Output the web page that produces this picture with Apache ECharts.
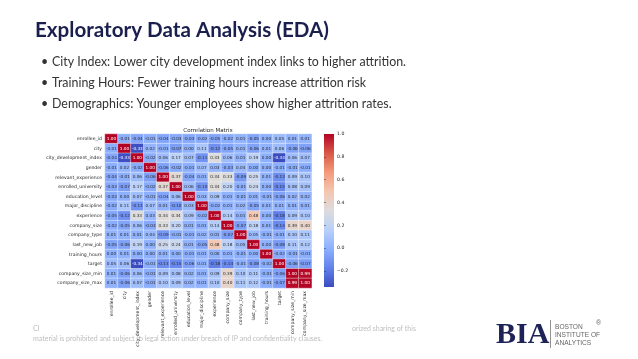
<!DOCTYPE html>
<html>
<head>
<meta charset="utf-8">
<title>Exploratory Data Analysis (EDA)</title>
<style>
  html, body { margin: 0; padding: 0; background: #ffffff; }
  #main { width: 638px; height: 359px; }
</style>
<script src="https://cdn.jsdelivr.net/npm/echarts@6/dist/echarts.min.js"></script>
</head>
<body>
<div id="main"></div>
<script>
const categories = ['enrollee_id', 'city', 'city_development_index', 'gender', 'relevant_experience',
  'enrolled_university', 'education_level', 'major_discipline', 'experience', 'company_size',
  'company_type', 'last_new_job', 'training_hours', 'target', 'company_size_min', 'company_size_max'];

const matrix = [
  [1.00, -0.01, -0.04, -0.01, -0.04, -0.03, -0.03, -0.02, -0.05, -0.02, 0.01, -0.05, 0.00, 0.05, 0.01, 0.01],
  [-0.01, 1.00, -0.33, 0.02, -0.01, -0.07, 0.00, 0.11, -0.12, -0.05, 0.01, -0.06, 0.01, 0.06, -0.06, -0.06],
  [-0.04, -0.33, 1.00, -0.02, 0.06, 0.17, 0.07, -0.11, 0.33, 0.06, 0.01, 0.19, 0.00, -0.34, 0.06, 0.07],
  [-0.01, 0.02, -0.02, 1.00, -0.06, -0.02, -0.01, 0.07, 0.03, -0.03, 0.04, 0.00, -0.00, -0.01, -0.01, -0.01],
  [-0.04, -0.01, 0.06, -0.06, 1.00, 0.37, -0.04, 0.01, 0.34, 0.33, -0.09, 0.25, 0.01, -0.13, 0.09, 0.10],
  [-0.03, -0.07, 0.17, -0.02, 0.37, 1.00, 0.06, -0.10, 0.34, 0.20, -0.01, 0.24, 0.00, -0.15, 0.08, 0.09],
  [-0.03, 0.00, 0.07, -0.01, -0.04, 0.06, 1.00, 0.03, 0.09, 0.01, -0.01, 0.01, -0.01, -0.06, 0.02, 0.02],
  [-0.02, 0.11, -0.11, 0.07, 0.01, -0.10, 0.03, 1.00, -0.02, 0.01, 0.02, -0.05, 0.01, 0.01, 0.01, 0.01],
  [-0.05, -0.12, 0.33, 0.03, 0.34, 0.34, 0.09, -0.02, 1.00, 0.14, 0.01, 0.48, 0.00, -0.18, 0.09, 0.10],
  [-0.02, -0.05, 0.06, -0.03, 0.33, 0.20, 0.01, 0.01, 0.14, 1.00, -0.07, 0.18, 0.01, -0.14, 0.39, 0.40],
  [0.01, 0.01, 0.01, 0.04, -0.09, -0.01, -0.01, 0.02, 0.01, -0.07, 1.00, 0.05, -0.01, -0.01, 0.10, 0.11],
  [-0.05, -0.06, 0.19, 0.00, 0.25, 0.24, 0.01, -0.05, 0.48, 0.18, 0.05, 1.00, 0.00, -0.08, 0.11, 0.12],
  [0.00, 0.01, 0.00, -0.00, 0.01, 0.00, -0.01, 0.01, 0.00, 0.01, -0.01, 0.00, 1.00, -0.02, -0.01, -0.01],
  [0.05, 0.06, -0.34, -0.01, -0.13, -0.15, -0.06, 0.01, -0.18, -0.14, -0.01, -0.08, -0.02, 1.00, -0.06, -0.07],
  [0.01, -0.06, 0.06, -0.01, 0.09, 0.08, 0.02, 0.01, 0.09, 0.39, 0.10, 0.11, -0.01, -0.06, 1.00, 0.99],
  [0.01, -0.06, 0.07, -0.01, 0.10, 0.09, 0.02, 0.01, 0.10, 0.40, 0.11, 0.12, -0.01, -0.07, 0.99, 1.00]
];

const colorbarTicks = [-0.2, 0, 0.2, 0.4, 0.6, 0.8, 1];
const coolwarm = ['#3b4cc0', '#6282ea', '#8db0fe', '#b9d0f9', '#dddcdc', '#f4c6af', '#f49a7b', '#d95847', '#b40426'];
const bullets = ['City Index: Lower city development index links to higher attrition.',
  'Training Hours: Fewer training hours increase attrition risk',
  'Demographics: Younger employees show higher attrition rates.'];

// 热力图数据，深色格子用白字
const heatData = [];
matrix.forEach(function (row, y) {
  row.forEach(function (v, x) {
    heatData.push({
      value: [x, y, v],
      label: { color: (v > 0.75 || v < -0.28) ? '#ffffff' : '#2a2a2a' }
    });
  });
});

function slideText(x, y, text, font, color) {
  return { type: 'text', left: x, top: y, silent: true, style: { text: text, font: font, fill: color } };
}

const slide = [
  slideText(35, 20, 'Exploratory Data Analysis (EDA)', 'bold 20.6px Lato', '#1b1f4e')
];
bullets.forEach(function (t, i) {
  slide.push(slideText(41, 55.5 + i * 21, '•', '12.4px Lato', '#333333'));
  slide.push(slideText(52, 55.5 + i * 21, t, '12.4px Lato', '#333333'));
});
slide.push(slideText(33, 325, 'Cl', '7px Lato', '#bdbdbd'));
slide.push(slideText(352, 325, 'orized sharing of this', '7px Lato', '#bdbdbd'));
slide.push(slideText(33, 335.5, 'material is prohibited and subject to legal action under breach of IP and confidentiality clauses.', '7px Lato', '#bdbdbd'));
// logo
slide.push(slideText(496, 320, 'BIA', 'bold 30px "Liberation Serif"', '#1d2257'));
slide.push({ type: 'rect', silent: true, shape: { x: 550, y: 320, width: 0.8, height: 28 }, style: { fill: '#777777' } });
slide.push(slideText(555, 323.5, 'BOSTON', '6.6px "Liberation Sans"', '#666666'));
slide.push(slideText(555, 331.5, 'INSTITUTE OF', '6.6px "Liberation Sans"', '#666666'));
slide.push(slideText(555, 339.5, 'ANALYTICS', '6.6px "Liberation Sans"', '#666666'));
slide.push(slideText(596, 320, '®', '7px "Liberation Sans"', '#666666'));

// 色条
slide.push({
  type: 'rect',
  silent: true,
  shape: { x: 324, y: 134, width: 10, height: 153 },
  style: {
    fill: new echarts.graphic.LinearGradient(0, 1, 0, 0, coolwarm.map(function (c, i) {
      return { offset: i / (coolwarm.length - 1), color: c };
    }))
  }
});

const axisFont = 'DejaVu Sans';
const myChart = echarts.init(document.getElementById('main'), null, { renderer: 'canvas' });
myChart.setOption({
  animation: false,
  backgroundColor: '#ffffff',
  title: {
    text: 'Correlation Matrix',
    left: 208,
    top: 128,
    padding: 0,
    textAlign: 'center',
    textStyle: { fontFamily: axisFont, fontSize: 5.5, fontWeight: 'normal', color: '#262626' }
  },
  grid: [
    { left: 105, top: 134, width: 206.7, height: 154 },
    { left: 324, top: 134, width: 10, height: 153 }
  ],
  xAxis: [
    {
      type: 'category', gridIndex: 0, data: categories,
      axisLine: { show: false },
      axisTick: { length: 1.5, alignWithLabel: true, lineStyle: { color: '#333', width: 0.5 } },
      axisLabel: { interval: 0, rotate: 90, fontFamily: axisFont, fontSize: 4.6, color: '#262626', margin: 3 },
      splitLine: { show: false }
    },
    { type: 'value', gridIndex: 1, show: false, min: 0, max: 1 }
  ],
  yAxis: [
    {
      type: 'category', gridIndex: 0, data: categories, inverse: true,
      axisLine: { show: false },
      axisTick: { length: 1.5, alignWithLabel: true, lineStyle: { color: '#333', width: 0.5 } },
      axisLabel: { interval: 0, fontFamily: axisFont, fontSize: 4.6, color: '#262626', margin: 3 },
      splitLine: { show: false }
    },
    {
      type: 'value', gridIndex: 1, position: 'right', min: -0.34, max: 1,
      axisLine: { show: false },
      axisTick: { show: true, length: 2, customValues: colorbarTicks, lineStyle: { color: '#333', width: 0.5 } },
      axisLabel: {
        show: true, customValues: colorbarTicks, fontFamily: axisFont, fontSize: 4.6, color: '#262626', margin: 3,
        formatter: function (v) { return (v < 0 ? '\u2212' : '') + Math.abs(v).toFixed(1); }
      },
      splitLine: { show: false }
    }
  ],
  visualMap: {
    type: 'continuous',
    show: false,
    seriesIndex: 0,
    min: -0.34,
    max: 1,
    inRange: { color: coolwarm }
  },
  series: [
    {
      type: 'heatmap',
      xAxisIndex: 0,
      yAxisIndex: 0,
      data: heatData,
      label: {
        show: true,
        fontFamily: axisFont,
        fontSize: 4.2,
        formatter: function (p) { return p.value[2].toFixed(2); }
      },
      itemStyle: { borderColor: '#ffffff', borderWidth: 0.4 },
      emphasis: { disabled: true }
    }
  ],
  graphic: slide
});
</script>
</body>
</html>
